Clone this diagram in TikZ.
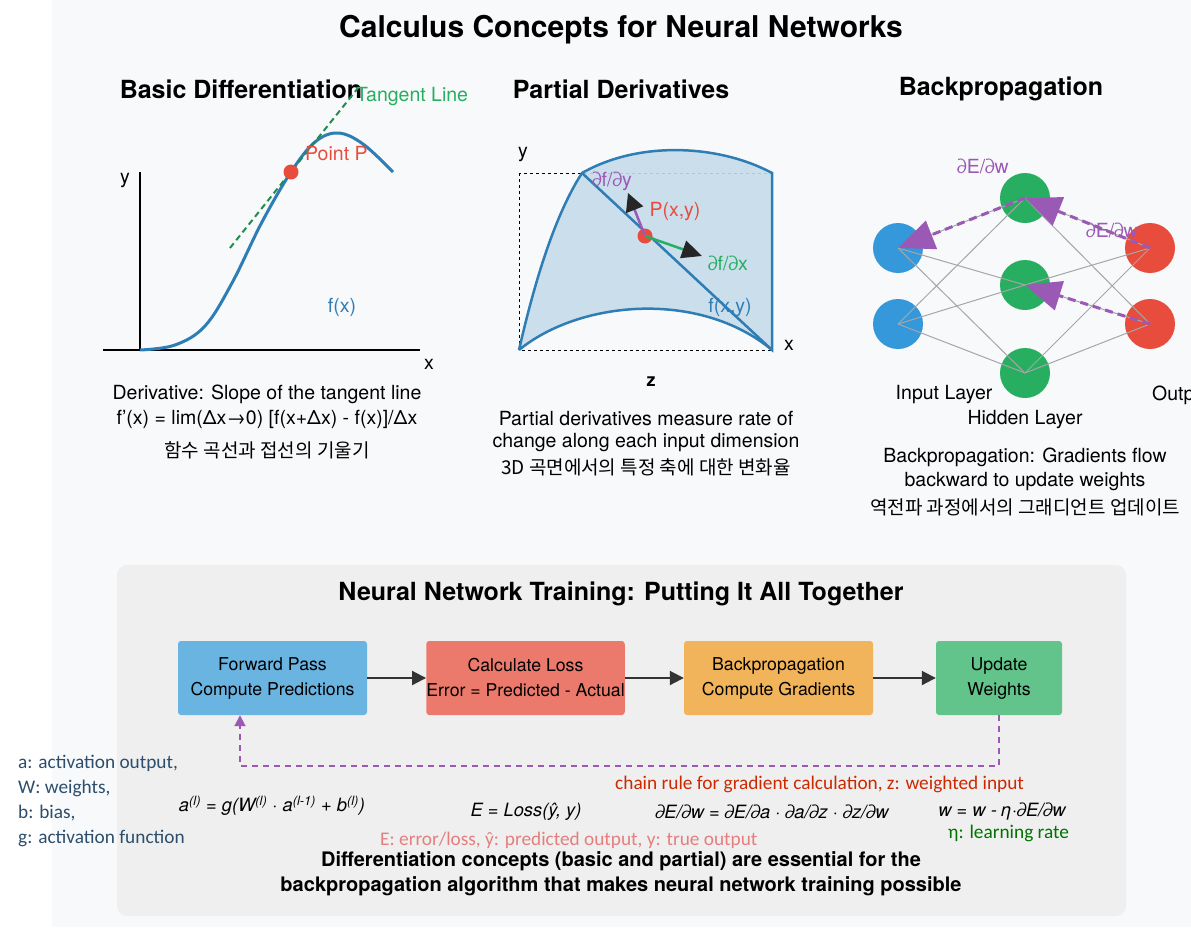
\documentclass[tikz,border=0pt]{standalone}
\usepackage{fontspec}
\setmainfont{TeX Gyre Heros}
\newfontfamily\cjk{Noto Sans CJK KR}
\newfontfamily\carl{Carlito}
\usetikzlibrary{arrows.meta}
\definecolor{bg}{HTML}{F8F9FA}
\definecolor{panel}{HTML}{EFEFEF}
\definecolor{cblue}{HTML}{2E7DB5}
\definecolor{cred}{HTML}{E74C3C}
\definecolor{cgreen}{HTML}{27AE60}
\definecolor{cpurp}{HTML}{9B59B6}
\definecolor{nblue}{HTML}{3498DB}
\definecolor{b1}{HTML}{6AB4E2}
\definecolor{b2}{HTML}{EC7A6C}
\definecolor{b3}{HTML}{F2B45A}
\definecolor{b4}{HTML}{62C48A}
\definecolor{annL}{HTML}{2C4E6C}
\tikzset{
 txt/.style={font=\fontsize{19.5}{21}\selectfont, inner sep=0pt},
 kor/.style={font=\cjk\fontsize{19}{21}\selectfont, inner sep=0pt},
 sec/.style={font=\bfseries\fontsize{25}{27}\selectfont, inner sep=0pt},
 neur/.style={circle, minimum size=50pt, inner sep=0pt},
 edge/.style={draw=gray!70, line width=1pt},
 grad/.style={cpurp, line width=3pt, dash pattern=on 8pt off 5pt, -{Triangle[length=36pt,width=30pt,sep=0pt]}},
 box/.style={rounded corners=3pt, minimum width=189pt, minimum height=74pt, inner xsep=0pt, align=center, font=\fontsize{17.7}{25}\selectfont},
 flow/.style={line width=2pt, -{Triangle[length=14pt,width=14pt]}, draw=black!80},
 frm/.style={font=\itshape\fontsize{18.3}{20}\selectfont, inner sep=0pt},
 ann/.style={font=\carl\fontsize{19.3}{20}\selectfont, inner sep=0pt},
}
\begin{document}
\begin{tikzpicture}[x=1pt,y=-1pt]
\useasboundingbox (0,0) rectangle (1191,927);
\fill[bg] (52,0) rectangle (1191,927);
\node[font=\bfseries\fontsize{30}{32}\selectfont] (title) at (621,30) {Calculus Concepts for Neural Networks};
% ---- Basic differentiation
\node[sec] (t1) at (241,89) {Basic Differentiation};
\draw[line width=1.6pt] (140,172) -- (140,350);
\draw[line width=1.6pt] (103,350) -- (420,350);
\node[txt] (lx) at (429,364) {x};
\node[txt] (ly) at (125,181) {y};
\draw[cblue, line width=3pt] plot[smooth, tension=0.6] coordinates {(140,350) (175,345) (205,326) (232,283) (262,222) (291,172) (315,142) (338,133) (363,144) (393,172)};
\draw[cgreen!80!black, line width=2pt, dash pattern=on 6pt off 4pt] (230,248) -- (358,88);
\node[circle, fill=cred, minimum size=15pt, inner sep=0pt] (P) at (291,172) {};
\node[txt, anchor=west, text=cgreen] (tl) at (356,97) {Tangent Line};
\node[txt, anchor=west, text=cred] (pp) at (305,154) {Point P};
\node[txt, text=cblue] (fx) at (342,307) {f(x)};
\node[txt] (d1) at (267,394) {Derivative: Slope of the tangent line};
\node[txt] (d2) at (267,419) {f'(x) = lim(Δx→0) [f(x+Δx) - f(x)]/Δx};
\node[kor] (d3) at (267,450) {함수 곡선과 접선의 기울기};
% ---- Partial
\node[sec] (t2) at (621,89) {Partial Derivatives};
\draw[dashed, line width=1pt] (519,173) rectangle (772,350);
\fill[cblue!30, opacity=0.8] (519,350) .. controls (535,280) and (555,215) .. (582,173) .. controls (640,140) and (720,145) .. (772,173) -- (772,350) .. controls (700,290) and (580,300) .. (519,350) -- cycle;
\fill[cblue!25, opacity=0.5] (582,173) .. controls (640,140) and (720,145) .. (772,173) -- (772,350) -- cycle;
\draw[cblue, line width=2.5pt] (519,350) .. controls (535,280) and (555,215) .. (582,173) .. controls (640,140) and (720,145) .. (772,173) -- (772,350) .. controls (700,290) and (580,300) .. (519,350);
\draw[cblue, line width=2.5pt] (582,173) -- (772,350);
\node[circle, fill=cred, minimum size=15pt, inner sep=0pt] (PP) at (645,236) {};
\coordinate (ay) at (628,193);
\coordinate (ax) at (702,256);
\draw[cpurp, line width=2.5pt, -{Triangle[length=18pt,width=18pt,fill=black!85,color=black!85]}] (PP.center) -- (ay);
\draw[cgreen, line width=2.5pt, -{Triangle[length=20pt,width=18pt,fill=black!85,color=black!85]}] (PP.center) -- (ax);
\node[txt, text=cpurp] (lfy) at (612,181) {∂f/∂y};
\node[txt, text=cred] (lp) at (675,212) {P(x,y)};
\node[txt, text=cgreen] (lfx) at (728,263) {∂f/∂x};
\node[txt, text=cblue] (lf) at (730,307) {f(x,y)};
\node[txt] (px) at (789,345) {x};
\node[txt] (py) at (523,155) {y};
\node[txt, font=\bfseries\fontsize{18}{20}\selectfont] (pz) at (651,382) {z};
\node[txt] (e1) at (646,419) {Partial derivatives measure rate of};
\node[txt] (e2) at (646,443) {change along each input dimension};
\node[kor] (e3) at (646,467) {3D 곡면에서의 특정 축에 대한 변화율};
% ---- Backprop
\node[sec] (t3) at (1001,89) {Backpropagation};
\node[neur, fill=nblue] (i1) at (898,248) {};
\node[neur, fill=nblue] (i2) at (898,324) {};
\node[neur, fill=cgreen] (h1) at (1025,198) {};
\node[neur, fill=cgreen] (h2) at (1025,285) {};
\node[neur, fill=cgreen] (h3) at (1025,373) {};
\node[neur, fill=cred] (o1) at (1150,248) {};
\node[neur, fill=cred] (o2) at (1150,324) {};
\foreach \a in {i1,i2} \foreach \b in {h1,h2,h3} \draw[edge] (\a.center) -- (\b.center);
\foreach \a in {h1,h2,h3} \foreach \b in {o1,o2} \draw[edge] (\a.center) -- (\b.center);
\draw[grad] (o1.center) -- (h1.center);
\draw[grad] (h1.center) -- (i1.center);
\draw[grad] (o2.center) -- (h2.center);
\node[txt, text=cpurp] (g1) at (983,166) {∂E/∂w};
\node[txt, text=cpurp] (g2) at (1112,230) {∂E/∂w};
\node[txt] (il) at (944,395) {Input Layer};
\node[txt] (hl) at (1025,420) {Hidden Layer};
\node[txt, anchor=west] (ol) at (1152,395) {Outp};
\node[txt] (f1) at (1025,457) {Backpropagation: Gradients flow};
\node[txt] (f2) at (1025,482) {backward to update weights};
\node[kor] (f3) at (1025,507) {역전파 과정에서의 그래디언트 업데이트};
% ---- bottom panel
\fill[panel, rounded corners=10pt] (117,565) rectangle (1126,916);
\node[font=\bfseries\fontsize{25}{27}\selectfont] (t4) at (621,594) {Neural Network Training: Putting It All Together};
\node[box, fill=b1] (bx1) at (272.5,678) {Forward Pass\\Compute Predictions};
\node[box, fill=b2] (bx2) at (525.5,678) {Calculate Loss\\Error = Predicted - Actual};
\node[box, fill=b3] (bx3) at (778.5,678) {Backpropagation\\Compute Gradients};
\node[box, fill=b4, minimum width=126pt] (bx4) at (999,678) {Update\\Weights};
\draw[flow] (bx1) -- (bx2);
\draw[flow] (bx2) -- (bx3);
\draw[flow] (bx3) -- (bx4);
\coordinate (c1) at (999,766);
\coordinate (c2) at (240,766);
\draw[cpurp, line width=2pt, dash pattern=on 6pt off 5pt, -{Triangle[length=11pt,width=11pt]}] (bx4.south) -- (c1) -- (c2) -- (c2 |- bx1.south);
\node[ann, text=orange!40!red!80!black, anchor=west] (a1) at (615,784) {chain rule for gradient calculation, z: weighted input};
\node[frm] (m1) at (272,806) {a\textsuperscript{(l)} = g(W\textsuperscript{(l)} · a\textsuperscript{(l-1)} + b\textsuperscript{(l)})};
\node[frm] (m2) at (526,812) {E = Loss(ŷ, y)};
\node[frm] (m3) at (772,812) {∂E/∂w = ∂E/∂a · ∂a/∂z · ∂z/∂w};
\node[frm] (m4) at (1002,812) {w = w - η·∂E/∂w};
\node[ann, text=red!45!white!90!black, anchor=west] (a2) at (380,840) {E: error/loss, ŷ: predicted output, y: true output};
\node[ann, text=green!45!black, anchor=west] (a3) at (948,833) {η: learning rate};
\node[ann, text=annL, anchor=west, align=left, font=\carl\fontsize{19.3}{25.2}\selectfont] (a4) at (18,801) {a: activation output,\\W: weights,\\b: bias,\\g: activation function};
\node[font=\bfseries\fontsize{20}{25}\selectfont, align=center] (bt) at (621,874) {Differentiation concepts (basic and partial) are essential for the\\backpropagation algorithm that makes neural network training possible};
\end{tikzpicture}
\end{document}
